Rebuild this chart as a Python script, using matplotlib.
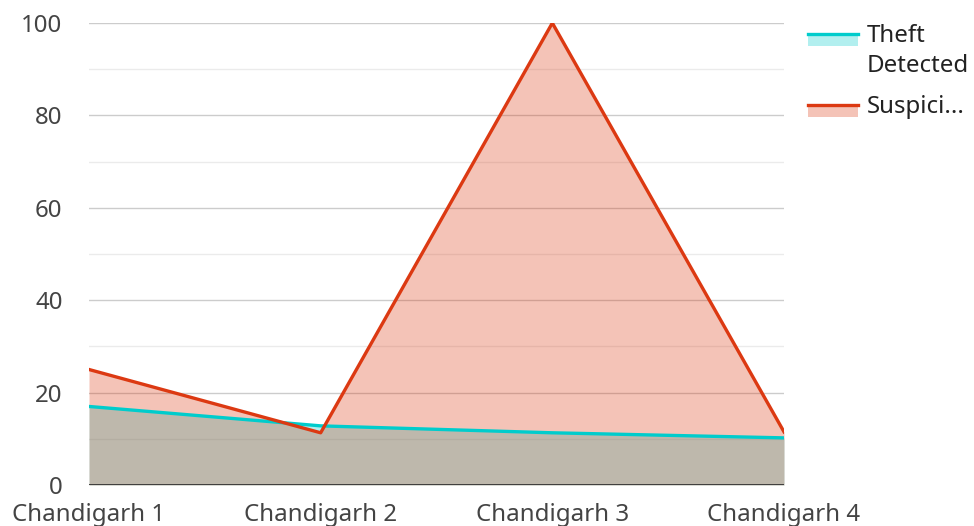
import matplotlib.pyplot as plt
from matplotlib.patches import Rectangle
from matplotlib.lines import Line2D

plt.rcParams['font.family'] = ['Noto Sans', 'DejaVu Sans']

# --- data ---
categories = ["Chandigarh 1", "Chandigarh 2", "Chandigarh 3", "Chandigarh 4"]
theft_detected = [17, 12.8, 11.3, 10.2]
suspicious = [25, 11.3, 100, 11.5]
series_names = ["Theft\nDetected", "Suspici..."]
y_ticks = [0, 20, 40, 60, 80, 100]

cyan = "#00cccc"
red = "#dc3912"
fs = 17.3

W, H = 974, 526
fig = plt.figure(figsize=(W / 100, H / 100), dpi=100)
ax = fig.add_axes([89 / W, 41 / H, 695 / W, 462 / H])

x = list(range(len(categories)))

# fills first, then lines
ax.fill_between(x, 0, theft_detected, color=cyan, alpha=0.3, linewidth=0, zorder=2)
ax.fill_between(x, 0, suspicious, color=red, alpha=0.3, linewidth=0, zorder=2)
ax.plot(x, theft_detected, color=cyan, linewidth=2.4, zorder=3, solid_joinstyle="round")
ax.plot(x, suspicious, color=red, linewidth=2.4, zorder=4, solid_joinstyle="round")

ax.set_xlim(0, len(categories) - 1)
ax.set_ylim(0, 100)
ax.set_xticks(x)
ax.set_xticklabels(categories)
ax.set_yticks(y_ticks)
ax.set_yticks(range(10, 100, 20), minor=True)

ax.grid(axis="y", which="major", color="#cccccc", linewidth=1, zorder=1)
ax.grid(axis="y", which="minor", color="#ebebeb", linewidth=1, zorder=1)
ax.axhline(0, color="#333333", linewidth=2, zorder=5)

for s in ax.spines.values():
    s.set_visible(False)
ax.tick_params(axis="both", which="both", length=0, labelsize=fs, labelcolor="#444444")
ax.tick_params(axis="y", pad=19)
ax.tick_params(axis="x", pad=13)

# --- legend (drawn by hand to get line + fill swatch) ---
def px(xp, yp):
    return xp / W, 1 - yp / H

legend_rows = [(series_names[0], cyan, 34), (series_names[1], red, 105)]
for name, col, yp in legend_rows:
    x0, y0 = px(808, yp + 12)
    fig.patches.append(Rectangle((x0, y0), 50 / W, 12 / H, transform=fig.transFigure,
                                 facecolor=col, alpha=0.3, linewidth=0))
    lx0, ly = px(808, yp)
    fig.lines.append(Line2D([lx0, lx0 + 50 / W], [ly, ly], transform=fig.transFigure,
                            color=col, linewidth=2.4))
    tx, ty = px(867, yp - 10)
    fig.text(tx, ty, name, fontsize=fs, color="#222222", va="top", ha="left", linespacing=1.32)

fig.savefig("out.png", dpi=100)
